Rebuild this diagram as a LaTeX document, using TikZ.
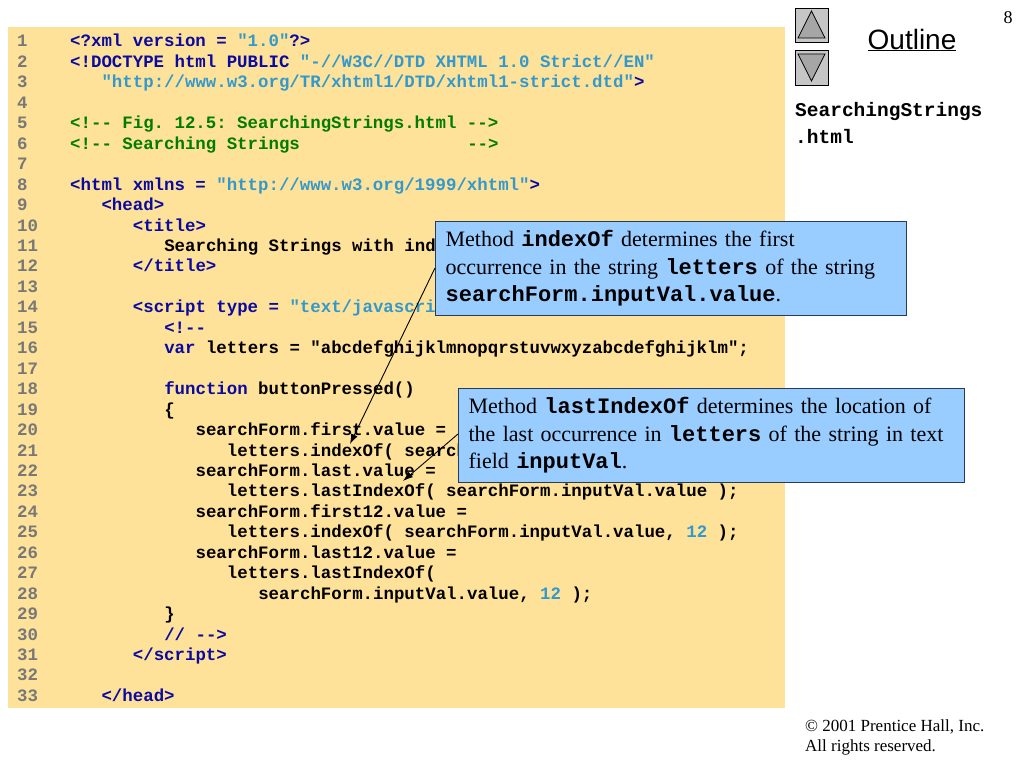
\documentclass[tikz,border=0pt]{standalone}
\usepackage{fontspec}
\setmainfont{Liberation Serif}
\setmonofont{Liberation Mono}
\newfontfamily\arialf{Liberation Sans}
\usetikzlibrary{arrows.meta}
\definecolor{bg}{RGB}{255,226,153}
\definecolor{kw}{RGB}{10,10,160}
\definecolor{st}{RGB}{51,153,204}
\definecolor{cm}{RGB}{0,125,0}
\definecolor{ln}{RGB}{120,120,120}
\definecolor{callfill}{RGB}{153,204,255}
\definecolor{callline}{RGB}{40,60,90}
\newcommand{\K}[1]{\textcolor{kw}{#1}}
\newcommand{\Ss}[1]{\textcolor{st}{#1}}
\newcommand{\C}[1]{\textcolor{cm}{#1}}
\newcommand{\N}[1]{\textcolor{st}{#1}}
\tikzset{
  x=1pt,y=-1pt,
  code/.style={anchor=west,inner sep=0pt,text height=11pt,text depth=3pt,font=\ttfamily\bfseries\fontsize{17.4}{20}\selectfont},
  lnum/.style={code,text=ln},
  callout/.style={draw=callline,line width=1.2pt,fill=callfill,anchor=north west,inner sep=0pt,align=left,font=\fontsize{22}{27.5}\selectfont},
  btn/.style={draw=black,fill=gray!45,line width=0.8pt},
  tri/.style={draw=black,fill=gray!70,line width=0.8pt},
  arr/.style={-{Latex[length=10pt,width=7pt]},line width=0.9pt}
}
\newcommand{\codeline}[3]{%
  \node[lnum] (n#1) at (17,{43+(#1-1)*20.45}) {#1};
  \node[code] (c#1) at ({70+#2*10.45},{43+(#1-1)*20.45}) {#3};}
\newcommand{\cx}{\fontsize{22}{27.5}\selectfont\ttfamily\bfseries}
\begin{document}
\begin{tikzpicture}
\useasboundingbox (0,0) rectangle (1024,768);
\fill[white] (0,0) rectangle (1024,768);
\fill[bg] (8,27) rectangle (785,708);
\codeline{1}{0}{\K{<?xml version = }\Ss{"1.0"}\K{?>}}
\codeline{2}{0}{\K{<!DOCTYPE html PUBLIC }\Ss{"-//W3C//DTD XHTML 1.0 Strict//EN"}}
\codeline{3}{3}{\Ss{"http://www.w3.org/TR/xhtml1/DTD/xhtml1-strict.dtd"}\K{>}}
\codeline{4}{0}{}
\codeline{5}{0}{\C{<!-- Fig. 12.5: SearchingStrings.html -->}}
\codeline{6}{0}{\C{<!-- Searching Strings}}
\node[code] (c6b) at ({70+38*10.45},{43+5*20.45}) {\C{-->}};
\codeline{7}{0}{}
\codeline{8}{0}{\K{<html xmlns = }\Ss{"http://www.w3.org/1999/xhtml"}\K{>}}
\codeline{9}{3}{\K{<head>}}
\codeline{10}{6}{\K{<title>}}
\codeline{11}{9}{Searching Strings with indexOf}
\codeline{12}{6}{\K{</title>}}
\codeline{13}{0}{}
\codeline{14}{6}{\K{<script type = }\Ss{"text/javascript"}\K{>}}
\codeline{15}{9}{\K{<!--}}
\codeline{16}{9}{\K{var} letters = "abcdefghijklmnopqrstuvwxyzabcdefghijklm";}
\codeline{17}{0}{}
\codeline{18}{9}{\K{function} buttonPressed()}
\codeline{19}{9}{\{}
\codeline{20}{12}{searchForm.first.value =}
\codeline{21}{15}{letters.indexOf( searchForm.inputVal.value );}
\codeline{22}{12}{searchForm.last.value =}
\codeline{23}{15}{letters.lastIndexOf( searchForm.inputVal.value );}
\codeline{24}{12}{searchForm.first12.value =}
\codeline{25}{15}{letters.indexOf( searchForm.inputVal.value, \N{12} );}
\codeline{26}{12}{searchForm.last12.value =}
\codeline{27}{15}{letters.lastIndexOf(}
\codeline{28}{18}{searchForm.inputVal.value, \N{12} );}
\codeline{29}{9}{\}}
\codeline{30}{9}{\K{// -->}}
\codeline{31}{6}{\K{</script>}}
\codeline{32}{0}{}
\codeline{33}{3}{\K{</head>}}
% callouts
\node[callout,minimum width=471pt,minimum height=94pt,text width=451pt,inner xsep=9pt,inner ysep=6pt] (b1) at (435,221)
 {Method {\cx indexOf} determines the first\\ occurrence in the string {\cx letters} of the string\\ {\cx searchForm.inputVal.value}.};
\node[callout,minimum width=506pt,minimum height=94pt,text width=486pt,inner xsep=9pt,inner ysep=6pt] (b2) at (458,388)
 {Method {\cx lastIndexOf} determines the location of\\ the last occurrence in {\cx letters} of the string in text\\ field {\cx inputVal}.};
\coordinate (t1) at (350,444);
\coordinate (t2) at (403,481);
\draw[arr] (b1.west |- 0,268) -- (t1);
\draw[arr] (b2.west |- 0,434) -- (t2);
% navigation
\draw[btn] (795,8) rectangle (828,42);
\draw[btn] (795,50) rectangle (828,85);
\draw[tri] (811.5,11) -- (825,38) -- (798,38) -- cycle;
\draw[tri] (798,54) -- (825,54) -- (811.5,81) -- cycle;
\node[font=\arialf\fontsize{28}{30}\selectfont,inner sep=0pt] (outl) at (912,40) {\underline{Outline}};
\node[font=\fontsize{18}{20}\selectfont,inner sep=0pt] (pg) at (1008,18) {8};
\node[anchor=north west,inner sep=0pt,align=left,font=\ttfamily\bfseries\fontsize{19.5}{27}\selectfont] (fn) at (795,102) {SearchingStrings\\.html};
\node[anchor=north west,inner sep=0pt,align=left,font=\fontsize{17}{20.5}\selectfont] (copy) at (805,719) {\textcopyright{} 2001 Prentice Hall, Inc.\\All rights reserved.};
\end{tikzpicture}
\end{document}
